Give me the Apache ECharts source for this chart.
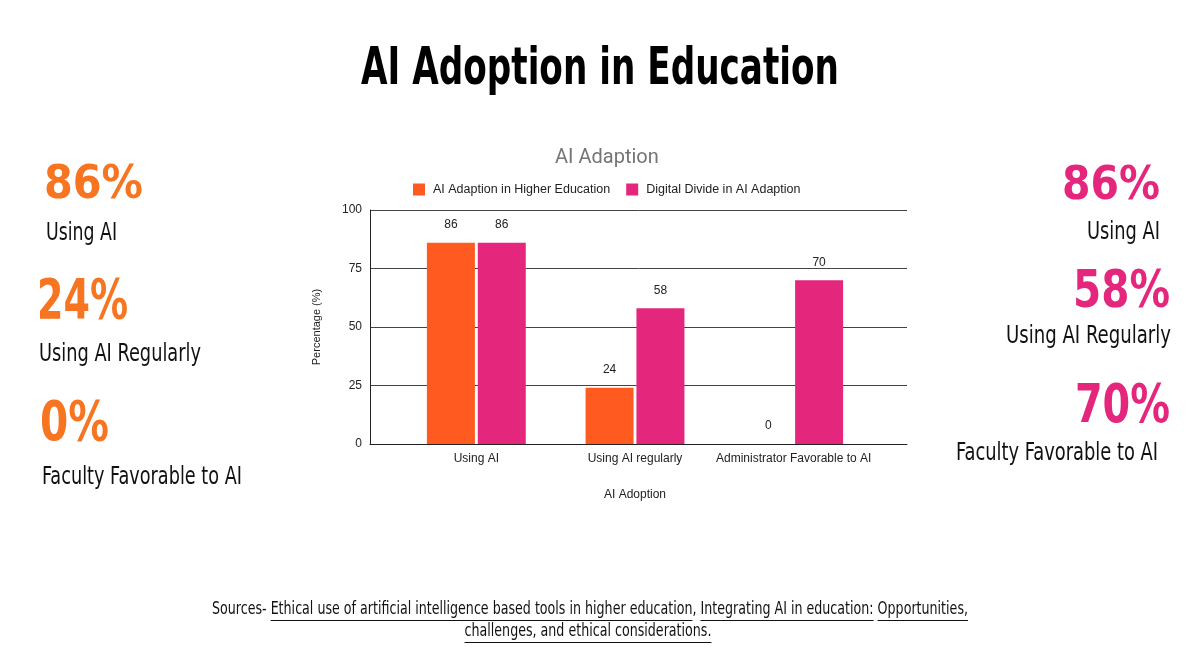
<!DOCTYPE html>
<html>
<head>
<meta charset="utf-8">
<script src="https://cdn.jsdelivr.net/npm/echarts@6/dist/echarts.min.js"></script>
<style>
html,body{margin:0;padding:0;background:#fff;}
#chart{width:1200px;height:656px;}
</style>
</head>
<body>
<div id="chart"></div>
<script>
// ---- data ----
const pageTitle = 'AI Adoption in Education';
const chartTitle = 'AI Adaption';
const categories = ['Using AI', 'Using AI regularly', 'Administrator Favorable to AI'];
const seriesNames = ['AI Adaption in Higher Education', 'Digital Divide in AI Adaption'];
const higherEd = [86, 24, 0];
const digitalDivide = [86, 58, 70];
const yTicks = [0, 25, 50, 75, 100];
const yAxisName = 'Percentage (%)';
const xAxisName = 'AI Adoption';
const leftStatValues = [86, 24, 0];
const leftStatLabels = ['Using AI', 'Using AI Regularly', 'Faculty Favorable to AI'];
const rightStatValues = [86, 58, 70];
const rightStatLabels = ['Using AI', 'Using AI Regularly', 'Faculty Favorable to AI'];
const sourceLines = [
  [['Sources- ', false], ['Ethical use of artificial intelligence based tools in higher education', true], [', ', false], ['Integrating AI in education:', true], [' ', false], ['Opportunities,', true]],
  [['challenges, and ethical considerations.', true]]
];

// ---- style / layout ----
const ORANGE = '#ff5a1f', PINK = '#e5267d';
const STAT_ORANGE = '#f77420', STAT_PINK = '#e4267c';
const NARROW = "'Liberation Sans Narrow','DejaVu Sans Condensed','Liberation Sans',sans-serif";
const SANS = "'Liberation Sans',Arial,sans-serif";

const cv = document.createElement('canvas').getContext('2d');
function measure(text, font) { cv.font = font; return cv.measureText(text).width; }

const graphics = [];
function fitText(text, font, x, y, targetW, color, align) {
  const w = measure(text, font);
  const s = targetW / w;
  graphics.push({
    type: 'text', x: x, y: y, scaleX: s,
    style: { text: text, font: font, fill: color, textAlign: align, textVerticalAlign: 'middle' },
    silent: true
  });
}

// page title
fitText(pageTitle, 'bold 51px ' + NARROW, 600, 71, 478, '#000', 'center');

// left stats (x: left edge, y: vertical centre of capitals, s: font size, w: width)
const leftLayout = [
  { x: 44, vy: 186, vs: 47, vw: 99, ly: 233, ls: 25, lw: 71 },
  { x: 37, vy: 304, vs: 55, vw: 91, ly: 355, ls: 24, lw: 162 },
  { x: 40, vy: 426, vs: 55, vw: 69, ly: 477, ls: 25, lw: 200 }
];
leftStatValues.forEach((v, i) => {
  const L = leftLayout[i];
  fitText(v + '%', 'bold ' + L.vs + 'px ' + NARROW, L.x, L.vy, L.vw, STAT_ORANGE, 'left');
  fitText(leftStatLabels[i], L.ls + 'px ' + NARROW, L.x + 2, L.ly, L.lw, '#111', 'left');
});
// right stats (right-aligned)
const rightLayout = [
  { vx: 1160, vy: 187, vs: 46, vw: 98, lx: 1160, ly: 233, ls: 24, lw: 73 },
  { vx: 1170, vy: 294, vs: 51, vw: 97, lx: 1171, ly: 337, ls: 24, lw: 165 },
  { vx: 1170, vy: 408, vs: 54, vw: 95, lx: 1158, ly: 454, ls: 24, lw: 202 }
];
rightStatValues.forEach((v, i) => {
  const L = rightLayout[i];
  fitText(v + '%', 'bold ' + L.vs + 'px ' + NARROW, L.vx, L.vy, L.vw, STAT_PINK, 'right');
  fitText(rightStatLabels[i], L.ls + 'px ' + NARROW, L.lx, L.ly, L.lw, '#111', 'right');
});

// sources with underlined links
(function () {
  const font = '17px ' + NARROW;
  const widths = sourceLines.map(line => line.reduce((a, seg) => a + measure(seg[0], font), 0));
  const s = 756 / widths[0];
  const centers = [590, 588], mids = [610, 632];
  sourceLines.forEach((line, li) => {
    let x = centers[li] - widths[li] * s / 2;
    line.forEach(seg => {
      const w = measure(seg[0], font) * s;
      graphics.push({
        type: 'text', x: x, y: mids[li], scaleX: s,
        style: { text: seg[0], font: font, fill: '#111', textAlign: 'left', textVerticalAlign: 'middle' }, silent: true
      });
      if (seg[1]) {
        const tw = measure(seg[0].replace(/\s+$/, ''), font) * s;
        const uy = mids[li] + 10.5;
        graphics.push({ type: 'line', shape: { x1: x, y1: uy, x2: x + tw, y2: uy }, style: { stroke: '#111', lineWidth: 1 }, silent: true });
      }
      x += w;
    });
  });
})();

const chart = echarts.init(document.getElementById('chart'), null, { renderer: 'canvas' });
const labelStyle = { show: true, position: 'top', distance: 12, fontSize: 12, color: '#222', fontFamily: SANS };
chart.setOption({
  animation: false,
  backgroundColor: '#fff',
  title: {
    text: chartTitle, left: 550, top: 143,
    textStyle: { fontSize: 20, fontWeight: 'normal', color: '#757575', fontFamily: "Roboto,'Liberation Sans',sans-serif" }
  },
  legend: {
    top: 178, left: 408, itemWidth: 12, itemHeight: 12, itemGap: 16, icon: 'rect',
    textStyle: { fontSize: 12.5, color: '#222', fontFamily: SANS, padding: [0, 0, 0, 3] },
    data: seriesNames
  },
  grid: [
    { left: 370, right: 293, top: 210, bottom: 212 },
    { left: 397, right: 327, top: 210, bottom: 212 }
  ],
  xAxis: [
    { gridIndex: 0, type: 'category', data: categories, axisLabel: { show: false }, axisTick: { show: false },
      axisLine: { show: true, lineStyle: { color: '#222', width: 1 } } },
    { gridIndex: 1, type: 'category', data: categories, axisTick: { show: false }, axisLine: { show: false },
      axisLabel: { interval: 0, fontSize: 12, color: '#222', margin: 9, fontFamily: SANS },
      name: xAxisName, nameLocation: 'middle', nameGap: 45,
      nameTextStyle: { fontSize: 12, color: '#222', fontFamily: SANS } }
  ],
  yAxis: [
    { gridIndex: 0, type: 'value', min: yTicks[0], max: yTicks[yTicks.length - 1], interval: yTicks[1] - yTicks[0],
      axisLine: { show: true, lineStyle: { color: '#222' } }, axisTick: { show: false },
      axisLabel: { fontSize: 12, color: '#222', margin: 8, fontFamily: SANS },
      splitLine: { lineStyle: { color: '#444', width: 1 } },
      name: yAxisName, nameLocation: 'middle', nameGap: 48, nameRotate: 90,
      nameTextStyle: { fontSize: 11, color: '#222', fontFamily: SANS } },
    { gridIndex: 1, type: 'value', min: yTicks[0], max: yTicks[yTicks.length - 1], show: false }
  ],
  series: [
    { name: seriesNames[0], type: 'bar', xAxisIndex: 1, yAxisIndex: 1, data: higherEd, barWidth: 48, barGap: '6%',
      itemStyle: { color: ORANGE }, label: labelStyle },
    { name: seriesNames[1], type: 'bar', xAxisIndex: 1, yAxisIndex: 1, data: digitalDivide, barWidth: 48, barGap: '6%',
      itemStyle: { color: PINK }, label: labelStyle }
  ],
  graphic: graphics
});
</script>
</body>
</html>
